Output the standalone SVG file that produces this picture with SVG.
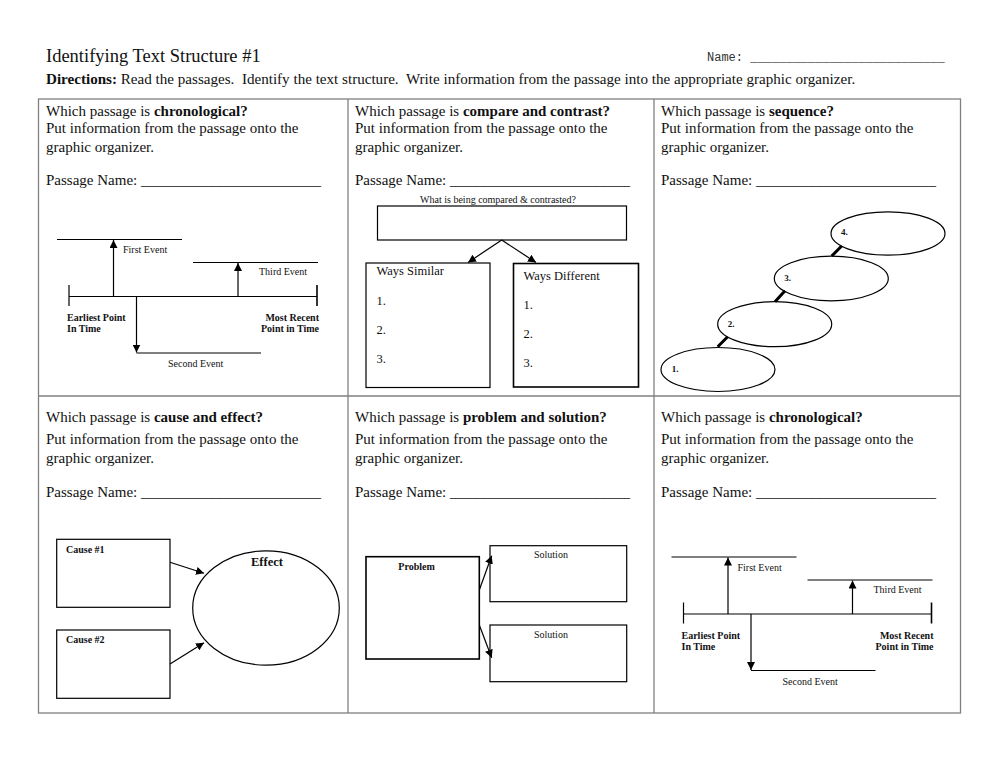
<svg xmlns="http://www.w3.org/2000/svg" xmlns:xlink="http://www.w3.org/1999/xlink" width="1000" height="772" viewBox="0 0 1000 772">
<style>
text{font-family:"Liberation Serif","Times New Roman",serif;fill:#111}
.hd{font-size:18.5px}
.dir{font-size:15.1px;white-space:pre}
.mono{font-family:"Liberation Mono","Courier New",monospace;font-size:12px;fill:#333}
.q{font-size:15px}
.b{font-weight:bold}
.s10{font-size:10px}
.s9{font-size:9px}
.s12{font-size:12.5px}
.grid{fill:none;stroke:#808080;stroke-width:1.3}
.ln{fill:none;stroke:#000;stroke-width:1.2}
.thk{fill:none;stroke:#000;stroke-width:1.6}
.conn{fill:none;stroke:#000;stroke-width:1.2}
.bar{fill:none;stroke:#000;stroke-width:3}
</style>
<defs>
<marker id="ah" viewBox="0 0 10 10" refX="10" refY="5" markerWidth="8" markerHeight="8" markerUnits="userSpaceOnUse" orient="auto">
<path d="M0,0 L10,5 L0,10 z" fill="#000"/>
</marker>
<g id="timeline">
<line class="ln" x1="57" y1="239.5" x2="182" y2="239.5"/>
<line class="conn" x1="113.5" y1="296.5" x2="113.5" y2="240" marker-end="url(#ah)"/>
<text class="s10" x="123" y="253">First Event</text>
<line class="ln" x1="193" y1="262.5" x2="318" y2="262.5"/>
<line class="conn" x1="238" y1="296.5" x2="238" y2="263" marker-end="url(#ah)"/>
<text class="s10" x="259" y="275">Third Event</text>
<line class="ln" x1="69" y1="296.5" x2="317" y2="296.5"/>
<line class="ln" x1="69" y1="285" x2="69" y2="306"/>
<line class="thk" x1="317" y1="285" x2="317" y2="306"/>
<line class="conn" x1="136.5" y1="296.5" x2="136.5" y2="352.5" marker-end="url(#ah)"/>
<line class="ln" x1="136.5" y1="353" x2="261" y2="353"/>
<text class="s10" x="168" y="367">Second Event</text>
<text class="s10 b" x="67" y="321">Earliest Point</text>
<text class="s10 b" x="67" y="332">In Time</text>
<text class="s10 b" x="319" y="321" text-anchor="end">Most Recent</text>
<text class="s10 b" x="319" y="332" text-anchor="end">Point in Time</text>
</g>
</defs>
<rect width="1000" height="772" fill="#fff"/>

<g id="header">
<text class="hd" x="46" y="62">Identifying Text Structure #1</text>
<text class="mono" x="707" y="61">Name: ___________________________</text>
<text class="dir" x="46" y="84" xml:space="preserve"><tspan class="b">Directions:</tspan> Read the passages.  Identify the text structure.  Write information from the passage into the appropriate graphic organizer.</text>
</g>

<g id="grid">
<rect class="grid" x="38.5" y="99" width="922" height="614"/>
<line class="grid" x1="348" y1="99" x2="348" y2="713"/>
<line class="grid" x1="654" y1="99" x2="654" y2="713"/>
<line class="grid" x1="38.5" y1="396" x2="960.5" y2="396"/>
</g>

<g id="panel-chronological-1">
<text class="q" x="46" y="115.5">Which passage is <tspan class="b">chronological?</tspan></text>
<text class="q" x="46" y="133">Put information from the passage onto the</text>
<text class="q" x="46" y="151.5">graphic organizer.</text>
<text class="q" x="46" y="185">Passage Name: ________________________</text>
<use xlink:href="#timeline" href="#timeline"/>
</g>

<g id="panel-compare">
<text class="q" x="355" y="115.5">Which passage is <tspan class="b">compare and contrast?</tspan></text>
<text class="q" x="355" y="133">Put information from the passage onto the</text>
<text class="q" x="355" y="151.5">graphic organizer.</text>
<text class="q" x="355" y="185">Passage Name: ________________________</text>
<g id="compare-top">
<text class="s10" x="498" y="203" text-anchor="middle">What is being compared &amp; contrasted?</text>
<rect class="ln" x="377.5" y="206" width="249" height="34"/>
</g>
<g id="ways-similar">
<rect class="ln" x="366" y="263" width="124" height="124.5"/>
<text class="s12" x="376.5" y="275">Ways Similar</text>
<text class="s12" x="376.5" y="305">1.</text>
<text class="s12" x="376.5" y="334">2.</text>
<text class="s12" x="376.5" y="363">3.</text>
</g>
<g id="ways-different">
<rect class="thk" x="513.5" y="263.5" width="125" height="123.5"/>
<text class="s12" x="523.5" y="279.5">Ways Different</text>
<text class="s12" x="523.5" y="308.5">1.</text>
<text class="s12" x="523.5" y="337.5">2.</text>
<text class="s12" x="523.5" y="366.5">3.</text>
</g>
</g>

<g id="panel-sequence">
<text class="q" x="661" y="115.5">Which passage is <tspan class="b">sequence?</tspan></text>
<text class="q" x="661" y="133">Put information from the passage onto the</text>
<text class="q" x="661" y="151.5">graphic organizer.</text>
<text class="q" x="661" y="185">Passage Name: ________________________</text>
<g id="seq-4"><ellipse class="ln" cx="888" cy="233.5" rx="57" ry="21.7"/><text class="s9 b" x="841" y="235">4.</text></g>
<g id="seq-3"><ellipse class="ln" cx="831.3" cy="278.5" rx="57" ry="22.3"/><text class="s9 b" x="784.3" y="281">3.</text></g>
<g id="seq-2"><ellipse class="ln" cx="774.7" cy="324.2" rx="57" ry="22.5"/><text class="s9 b" x="727.7" y="326.7">2.</text></g>
<g id="seq-1"><ellipse class="ln" cx="718" cy="369.5" rx="57" ry="22"/><text class="s9 b" x="671.7" y="371.7">1.</text></g>
</g>

<g id="panel-cause">
<text class="q" x="46" y="421.5">Which passage is <tspan class="b">cause and effect?</tspan></text>
<text class="q" x="46" y="444">Put information from the passage onto the</text>
<text class="q" x="46" y="462.5">graphic organizer.</text>
<text class="q" x="46" y="497">Passage Name: ________________________</text>
<g id="cause-1"><rect class="ln" x="56.7" y="539.3" width="113.3" height="68"/><text class="s10 b" x="66" y="552.7">Cause #1</text></g>
<g id="cause-2"><rect class="ln" x="56.7" y="630" width="113.3" height="68.3"/><text class="s10 b" x="66" y="643.3">Cause #2</text></g>
<g id="effect"><ellipse class="ln" cx="266" cy="608" rx="73.3" ry="57.2"/><text class="s12 b" x="267" y="566" text-anchor="middle">Effect</text></g>
</g>

<g id="panel-problem">
<text class="q" x="355" y="421.5">Which passage is <tspan class="b">problem and solution?</tspan></text>
<text class="q" x="355" y="444">Put information from the passage onto the</text>
<text class="q" x="355" y="462.5">graphic organizer.</text>
<text class="q" x="355" y="497">Passage Name: ________________________</text>
<g id="problem"><rect class="thk" x="366" y="556.7" width="113.3" height="102.3"/><text class="s10 b" x="398.3" y="570">Problem</text></g>
<g id="solution-1"><rect class="ln" x="490" y="545.7" width="136.7" height="56"/><text class="s10" x="534" y="558.3">Solution</text></g>
<g id="solution-2"><rect class="ln" x="490" y="625" width="136.7" height="56.7"/><text class="s10" x="534" y="637.7">Solution</text></g>
</g>

<g id="panel-chronological-2">
<text class="q" x="661" y="421.5">Which passage is <tspan class="b">chronological?</tspan></text>
<text class="q" x="661" y="444">Put information from the passage onto the</text>
<text class="q" x="661" y="462.5">graphic organizer.</text>
<text class="q" x="661" y="497">Passage Name: ________________________</text>
<use xlink:href="#timeline" href="#timeline" transform="translate(614.5,317.5)"/>
</g>

<g id="connectors">
<line class="conn" x1="501.7" y1="240" x2="468" y2="262.5" marker-end="url(#ah)"/>
<line class="conn" x1="501.7" y1="240" x2="536" y2="262.5" marker-end="url(#ah)"/>
<line class="bar" x1="841.7" y1="246" x2="831.7" y2="256"/>
<line class="bar" x1="785" y1="290.7" x2="775" y2="301.7"/>
<line class="bar" x1="727.7" y1="336.7" x2="717.7" y2="346.7"/>
<line class="conn" x1="170" y1="562.3" x2="204" y2="573.3" marker-end="url(#ah)"/>
<line class="conn" x1="170" y1="664" x2="204" y2="642.7" marker-end="url(#ah)"/>
<line class="conn" x1="479.3" y1="590" x2="491.7" y2="555.7" marker-end="url(#ah)"/>
<line class="conn" x1="479.3" y1="625" x2="491.7" y2="657.7" marker-end="url(#ah)"/>
</g>
</svg>
